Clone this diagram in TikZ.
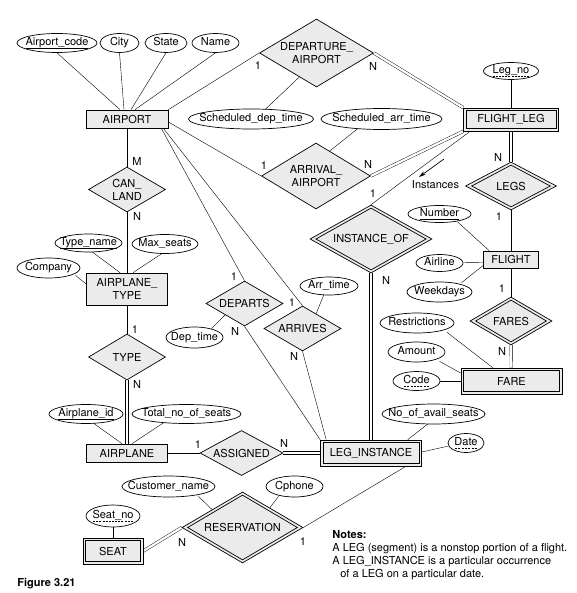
\documentclass[tikz,border=0pt]{standalone}
\usepackage{fontspec}
\setmainfont{TeX Gyre Heros}
\usetikzlibrary{shapes.geometric,calc,backgrounds,arrows.meta}
\definecolor{erfill}{gray}{0.92}
\tikzset{>={Stealth[length=7pt,width=4pt]}}
\tikzset{
  entity/.style={draw, fill=erfill, rectangle, inner sep=0pt, align=center},
  rel/.style={draw, fill=erfill, diamond, inner sep=0pt, align=center},
  attr/.style={draw, fill=white, ellipse, inner sep=0pt, text height=7pt, text depth=2pt},
  card/.style={inner sep=0pt},
  dbl/.style={double, double distance=2.3pt}
}
\newcommand{\zw}[1]{\makebox[0pt]{#1}}
% key and partial key underlines
\newcommand{\ukey}[1]{\setbox0=\hbox{#1}%
  \rlap{\raisebox{-2.6pt}{\vrule width\wd0 height 0.5pt depth 0pt}}\box0}
\newcommand{\pkey}[1]{\setbox0=\hbox{#1}%
  \rlap{\raisebox{-2.6pt}{\hbox to \wd0{\xleaders\hbox to 3pt{\hss\vrule width 2pt height 0.5pt depth 0pt\hss}\hfil}}}\box0}

\begin{document}
\begin{tikzpicture}[x=1pt, y=-1pt, line width=0.7pt, font=\fontsize{11}{13}\selectfont]
    \useasboundingbox (0,0) rectangle (576,593);
    % entities
    \node[entity, minimum width=82, minimum height=18] (airport) at (127,119) {AIRPORT};
    \node[entity, minimum width=81, minimum height=32] (atype) at (127,289) {AIRPLANE\_\\TYPE};
    \node[entity, minimum width=81, minimum height=18] (airplane) at (127,453) {AIRPLANE};
    \node[entity, minimum width=55, minimum height=17] (flight) at (511,259.5) {FLIGHT};
    \node[entity, minimum width=95, minimum height=23] (fleg) at (511,119.5) {FLIGHT\_LEG};
    \node[entity, minimum width=101, minimum height=26] (fare) at (511.5,381) {FARE};
    \node[entity, minimum width=101, minimum height=26] (leginst) at (371,453) {LEG\_INSTANCE};
    \node[entity, minimum width=60, minimum height=26] (seat) at (113,551) {SEAT};
    % weak entities: inner border
    \foreach \n in {fleg,fare,leginst,seat}
        \draw ($(\n.north west)+(3,3)$) rectangle ($(\n.south east)+(-3,-3)$);
    % relationships
    \node[rel, minimum width=114, minimum height=68] (deparp) at (316.5,53) {\zw{DEPARTURE\_}\\\zw{AIRPORT}};
    \node[rel, minimum width=109, minimum height=66] (arrarp) at (316,176) {\zw{ARRIVAL\_}\\\zw{AIRPORT}};
    \node[rel, minimum width=77, minimum height=45] (canland) at (127,189.5) {\zw{CAN\_}\\\zw{LAND}};
    \node[rel, minimum width=77, minimum height=46] (typerel) at (127,357) {\zw{TYPE}};
    \node[rel, minimum width=77, minimum height=45] (departs) at (244.5,303.5) {\zw{DEPARTS}};
    \node[rel, minimum width=77, minimum height=45] (arrives) at (302.5,328.5) {\zw{ARRIVES}};
    \node[rel, minimum width=83, minimum height=45] (assigned) at (241.5,453) {\zw{ASSIGNED}};
    \node[rel, minimum width=122, minimum height=68] (instof) at (371,239) {\zw{INSTANCE\_OF}};
    \node[rel, minimum width=91, minimum height=48] (legs) at (511,186) {\zw{LEGS}};
    \node[rel, minimum width=82, minimum height=48] (fares) at (511,321) {\zw{FARES}};
    \node[rel, minimum width=121, minimum height=71] (reserv) at (242.5,527.5) {\zw{RESERVATION}};
    % identifying relationships: inner border
    \foreach \n/\dx in {instof/6.3, legs/6.6, fares/6, reserv/6}
        \draw ($(\n.north)+(0,3.5)$) -- ($(\n.east)+(-\dx,0)$) -- ($(\n.south)+(0,-3.5)$)
            -- ($(\n.west)+(\dx,0)$) -- cycle;
    % attributes
    \node[attr, minimum width=80, minimum height=19] (apcode) at (57,43) {\zw{\ukey{Airport\_code}}};
    \node[attr, minimum width=39, minimum height=19] (city) at (119.5,43) {\zw{City}};
    \node[attr, minimum width=42, minimum height=19] (state) at (166,43) {\zw{State}};
    \node[attr, minimum width=47, minimum height=19] (name) at (215.5,43) {\zw{Name}};
    \node[attr, minimum width=125, minimum height=20] (sdt) at (251,119) {\zw{Scheduled\_dep\_time}};
    \node[attr, minimum width=121, minimum height=21] (sat) at (381.5,119) {\zw{Scheduled\_arr\_time}};
    \node[attr, minimum width=55, minimum height=17] (legno) at (511,71) {\zw{\pkey{Leg\_no}}};
    \node[attr, minimum width=63, minimum height=17] (number) at (439.5,214) {\zw{\ukey{Number}}};
    \node[attr, minimum width=47, minimum height=17] (airline) at (439.5,263) {\zw{Airline}};
    \node[attr, minimum width=65, minimum height=20] (weekdays) at (439.5,292) {\zw{Weekdays}};
    \node[attr, minimum width=74, minimum height=20] (restr) at (417,323) {\zw{Restrictions}};
    \node[attr, minimum width=57, minimum height=20] (amount) at (416.5,352) {\zw{Amount}};
    \node[attr, minimum width=47, minimum height=19] (code) at (416.5,381) {\zw{\pkey{Code}}};
    \node[attr, minimum width=67, minimum height=18] (tname) at (88.5,243) {\zw{\ukey{Type\_name}}};
    \node[attr, minimum width=66, minimum height=19] (maxs) at (165,244) {\zw{Max\_seats}};
    \node[attr, minimum width=63, minimum height=20] (company) at (48.5,268) {\zw{Company}};
    \node[attr, minimum width=74, minimum height=19] (aid) at (86,414) {\zw{\ukey{Airplane\_id}}};
    \node[attr, minimum width=109, minimum height=19] (tnos) at (186.5,414) {\zw{Total\_no\_of\_seats}};
    \node[attr, minimum width=103, minimum height=20] (navail) at (433.5,414) {\zw{No\_of\_avail\_seats}};
    \node[attr, minimum width=36, minimum height=19] (date) at (466,443) {\zw{\pkey{Date}}};
    \node[attr, minimum width=93, minimum height=21] (cname) at (168.5,486.5) {\zw{Customer\_name}};
    \node[attr, minimum width=57, minimum height=21] (cphone) at (294.5,486.5) {\zw{Cphone}};
    \node[attr, minimum width=54, minimum height=22] (seatno) at (113,516) {\zw{\pkey{Seat\_no}}};
    \node[attr, minimum width=57, minimum height=21] (dtime) at (194.5,337.5) {\zw{Dep\_time}};
    \node[attr, minimum width=58, minimum height=18] (atime) at (329,286) {\zw{Arr\_time}};
    % cardinalities
    \foreach \x/\y/\t [count=\i] in {258/66/1, 373/66/N, 264/166/1, 368/164/N, 498/157/N,
        373/194/1, 386/280/N, 499/217/1, 502/289/1, 502/351/N, 137/161/M, 137/216/N,
        135/330/1, 137/384/N, 198/445/1, 284/443/N, 234/277/1, 292/303/1, 235/331/N,
        294/356/N, 303/542/1, 182/542/N}
        \node[card] (card\i) at (\x,\y) {\t};
    % connectors
    \begin{scope}[on background layer]
    \draw (apcode.south) -- ($(airport.north)+(-7,0)$);
    \draw (city.south) -- ($(airport.north)+(-3,0)$);
    \draw (state.south) -- ($(airport.north)+(4,0)$);
    \draw (name.south) -- ($(airport.north)+(8,0)$);
    \draw (airport.north east) -- (deparp.west);
    \draw[dbl] (deparp.east) -- (fleg.north west);
    \draw ($(sdt.north)+(14,1)$) -- ($(deparp.south)!0.3!(deparp.west)$);
    \draw ($(sat.south)+(-24,-1)$) -- ($(arrarp.north)!0.25!(arrarp.east)$);
    \draw ($(airport.east)+(0,3)$) -- (arrarp.west);
    \draw[dbl] (arrarp.east) -- (fleg.south west);
    \draw (legno) -- (fleg);
    \draw[dbl] (fleg) -- (legs);
    \draw ($(fleg.south west)+(7,0)$) -- (instof.north);
    \draw (legs) -- (flight);
    \draw ($(number.south)+(18,-1)$) -- ($(flight.north west)+(6,0)$);
    \draw (airline) -- ($(flight.west)+(0,3)$);
    \draw ($(weekdays.north)+(22,1)$) -- ($(flight.west)+(0,6)$);
    \draw (flight) -- (fares);
    \draw[dbl] (fares) -- (fare);
    \draw ($(restr.south)+(30,-1)$) -- ($(fare.north west)+(32,0)$);
    \draw ($(amount.south)+(23,-1)$) -- ($(fare.west)+(0,-8)$);
    \draw (code) -- (fare);
    \draw (airport) -- (canland);
    \draw (canland) -- (atype);
    \draw ($(tname.south)+(3,-1)$) -- ($(atype.north)+(-7,0)$);
    \draw ($(maxs.south)+(-2,-1)$) -- ($(atype.north)+(6,0)$);
    \draw ($(company.south)+(27,-3)$) -- ($(atype.west)+(0,-5)$);
    \draw (atype) -- (typerel);
    \draw[dbl] (typerel) -- (airplane);
    \draw ($(aid.south)+(7,-1)$) -- ($(airplane.north)+(-5,0)$);
    \draw ($(tnos.south)+(-23,-1)$) -- ($(airplane.north)+(5,0)$);
    \draw (airplane) -- (assigned);
    \draw[dbl] (assigned) -- (leginst);
    \draw ($(airport.south east)+(-7,0)$) -- (departs.north);
    \draw ($(airport.south east)+(-5,0)$) -- (arrives.north);
    \draw ($(dtime.north)+(17,2)$) -- ($(departs.south)!0.5!(departs.west)$);
    \draw ($(atime.south)+(-5,-1)$) -- ($(arrives.north)!0.35!(arrives.east)$);
    \draw (departs.south) -- (leginst.north west);
    \draw (arrives.south) -- ($(leginst.north west)+(6,0)$);
    \draw[dbl] (instof) -- (leginst);
    \draw ($(navail.south)+(-5,-1)$) -- ($(leginst.north east)+(-14,0)$);
    \draw ($(date.west)+(1,3)$) -- ($(leginst.east)+(0,-1)$);
    \draw ($(leginst.south east)+(-16,0)$) -- (reserv.east);
    \draw ($(cname.south)+(30,-1)$) -- ($(reserv.north)!0.5!(reserv.west)$);
    \draw ($(cphone.south)+(-16,-1)$) -- ($(reserv.north)!0.45!(reserv.east)$);
    \draw (seatno) -- (seat);
    \draw[dbl] (seat.east) -- (reserv.west);
    \end{scope}
    % instances arrow
    \coordinate (arrs) at (444,159);
    \coordinate (arre) at (419,177);
    \draw[->] (arrs) -- (arre);
    \node (instlbl) at (435.5,185) {Instances};
    % notes
    \node[anchor=north west, align=left, inner sep=0pt] (notes) at (332,530)
        {\textbf{Notes:}\\A LEG (segment) is a nonstop portion of a flight.\\
         A LEG\_INSTANCE is a particular occurrence\\\hspace{8pt}of a LEG on a particular date.};
    \node[anchor=west, inner sep=0pt] (figlbl) at (17,584) {\textbf{Figure 3.21}};
\end{tikzpicture}
\end{document}
